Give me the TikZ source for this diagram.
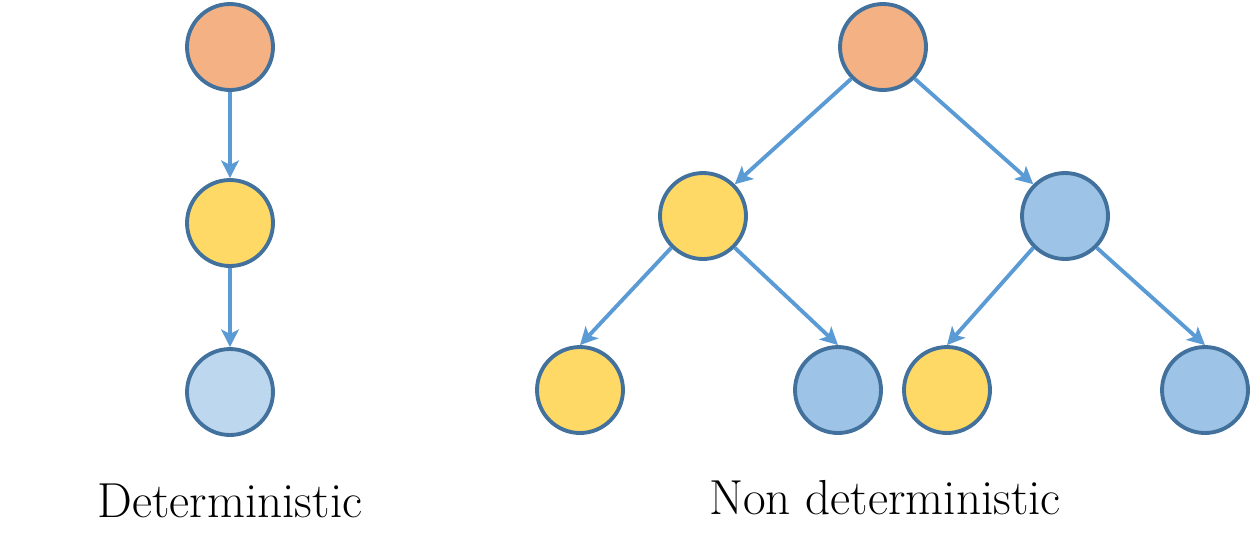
\documentclass[tikz,border=0pt]{standalone}
\usepackage{tikz}
\usetikzlibrary{arrows.meta,positioning}
\definecolor{rim}{HTML}{41719C}
\definecolor{link}{HTML}{5B9BD5}
\definecolor{peach}{HTML}{F4B183}
\definecolor{gold}{HTML}{FFD966}
\definecolor{pale}{HTML}{BDD7EE}
\definecolor{sky}{HTML}{9DC3E6}

\begin{document}
\begin{tikzpicture}[x=0.02cm,y=-0.02cm,
  state/.style={circle,draw=rim,line width=2.2pt,minimum size=1.72cm,inner sep=0pt},
  edge/.style={draw=link,line width=2.2pt,-{Stealth[length=10pt,width=10pt,inset=2.5pt]}},
  caption/.style={font=\fontsize{28}{32}\selectfont}]
  \useasboundingbox (0,0) rectangle (1250,556);
  % deterministic
  \node[state,fill=peach] (d1) at (230,47) {};
  \node[state,fill=gold]  (d2) at (230,223) {};
  \node[state,fill=pale]  (d3) at (230,392) {};
  \path[edge] (d1) -- (d2);
  \path[edge] (d2) -- (d3);
  \node[caption] (dl) at (230,501) {Deterministic};
  % non deterministic
  \node[state,fill=peach] (root) at (883,47) {};
  \node[state,fill=gold]  (a)  at (703,216) {};
  \node[state,fill=sky]   (b)  at (1065,216) {};
  \node[state,fill=gold]  (aa) at (580,390) {};
  \node[state,fill=sky]   (ab) at (838,390) {};
  \node[state,fill=gold]  (ba) at (947,390) {};
  \node[state,fill=sky]   (bb) at (1205,390) {};
  \path[edge] (root.south west) -- (a.north east);
  \path[edge] (root.south east) -- (b.north west);
  \foreach \s/\l/\r in {a/aa/ab,b/ba/bb}{
    \path[edge] (\s.south west) -- (\l.north);
    \path[edge] (\s.south east) -- (\r.north);
  }
  \node[caption] (nl) at (885,498) {Non deterministic};
\end{tikzpicture}
\end{document}
